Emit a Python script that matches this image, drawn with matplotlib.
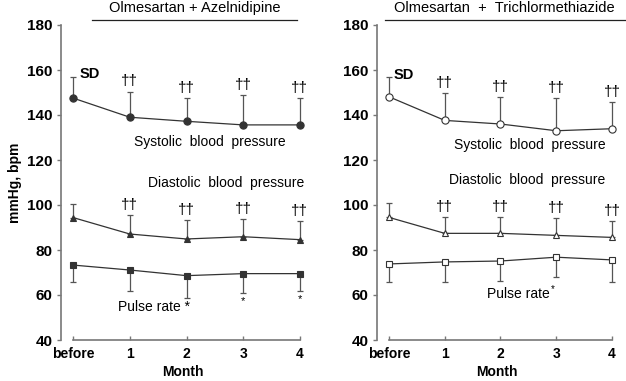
import matplotlib
matplotlib.use("Agg")
import matplotlib.pyplot as plt
from matplotlib.lines import Line2D

plt.rcParams["font.family"] = ["Liberation Sans", "DejaVu Sans"]

# ── Data ────────────────────────────────────────────────────────────────────

months = ["before", "1", "2", "3", "4"]
xpos = [0, 1, 2, 3, 4]

# Olmesartan + Azelnidipine (filled markers)
aze_sbp    = [147.5, 139.0, 137.2, 135.6, 135.6]
aze_sbp_sd = [9.3, 11.4, 10.5, 13.3, 12.1]
aze_dbp    = [94.4, 87.1, 84.9, 85.9, 84.6]
aze_dbp_sd = [6.2, 8.3, 8.3, 8.0, 8.3]
aze_pr     = [73.3, 71.1, 68.6, 69.5, 69.5]
aze_pr_sd  = [7.3, 9.5, 10.1, 8.7, 7.9]

# Olmesartan + Trichlormethiazide (open markers)
tcm_sbp    = [148.1, 137.6, 136.0, 133.0, 133.9]
tcm_sbp_sd = [8.9, 12.3, 12.1, 14.4, 12.0]
tcm_dbp    = [94.5, 87.4, 87.4, 86.5, 85.6]
tcm_dbp_sd = [6.5, 7.4, 7.4, 7.6, 7.3]
tcm_pr     = [73.8, 74.7, 75.1, 76.8, 75.6]
tcm_pr_sd  = [7.8, 8.7, 8.7, 8.9, 9.6]

# months flagged with daggers / asterisks
dagger_months = [1, 2, 3, 4]
aze_star_months = [3, 4]

LINE = "#333333"
ERR = "#555555"
SPINE = "#777777"


def series(ax, y, sd, marker, filled, up=True):
    lower = [0] * len(sd) if up else sd
    upper = sd if up else [0] * len(sd)
    ax.errorbar(xpos, y, yerr=[lower, upper], fmt="none", ecolor=ERR,
                elinewidth=0.9, capsize=2.2, capthick=0.9, zorder=2)
    ax.plot(xpos, y, color=LINE, linewidth=0.9, marker=marker,
            markersize=4.8 if marker != "o" else 5.2,
            markerfacecolor=LINE if filled else "white",
            markeredgecolor=LINE, markeredgewidth=0.8, zorder=3)


def daggers(ax, y, sd):
    for m in dagger_months:
        ax.text(m, y[m] + sd[m] + 4.5, "\u2020\u2020", ha="center", va="center",
                fontsize=11)


def style_axes(ax):
    ax.set_xlim(-0.215, 4.09)
    ax.set_ylim(40, 180)
    ax.set_yticks(range(40, 181, 20))
    ax.set_xticks(xpos)
    ax.set_xticklabels(months)
    for s in ("top", "right"):
        ax.spines[s].set_visible(False)
    for s in ("left", "bottom"):
        ax.spines[s].set_color(SPINE)
        ax.spines[s].set_linewidth(1.2)
    ax.spines["bottom"].set_bounds(0, 4)
    ax.tick_params(axis="y", direction="out", length=3, width=1, color=SPINE,
                   labelsize=11, pad=3)
    ax.tick_params(axis="x", direction="in", length=3, width=1, color=SPINE,
                   labelsize=10, pad=5)
    for lab in ax.get_xticklabels() + ax.get_yticklabels():
        lab.set_fontweight("bold")
    ax.set_xlabel("Month", fontsize=10, fontweight="bold", labelpad=3)


fig = plt.figure(figsize=(6.26, 3.81), dpi=100)
ax1 = fig.add_axes([61 / 626, 1 - 340 / 381, 244 / 626, 315 / 381])
ax2 = fig.add_axes([377 / 626, 1 - 340 / 381, 240 / 626, 315 / 381])

# ── Left panel ──────────────────────────────────────────────────────────────
series(ax1, aze_sbp, aze_sbp_sd, "o", True)
series(ax1, aze_dbp, aze_dbp_sd, "^", True)
series(ax1, aze_pr, aze_pr_sd, "s", True, up=False)
daggers(ax1, aze_sbp, aze_sbp_sd)
daggers(ax1, aze_dbp, aze_dbp_sd)
for m in aze_star_months:
    ax1.text(m, aze_pr[m] - aze_pr_sd[m] - 1.2, "*", ha="center", va="top",
             fontsize=8)
ax1.text(0.12, 158.2, "SD", fontsize=10.5, fontweight="bold", va="center")
ax1.text(2.405, 128.1, "Systolic  blood  pressure", fontsize=10,
         ha="center", va="center")
ax1.text(2.69, 109.9, "Diastolic  blood  pressure", fontsize=10,
         ha="center", va="center")
ax1.text(0.79, 54.7, "Pulse rate *", fontsize=10, ha="left", va="center")
ax1.set_ylabel("mmHg, bpm", fontsize=10, fontweight="bold", labelpad=4)
style_axes(ax1)

# ── Right panel ─────────────────────────────────────────────────────────────
series(ax2, tcm_sbp, tcm_sbp_sd, "o", False)
series(ax2, tcm_dbp, tcm_dbp_sd, "^", False)
series(ax2, tcm_pr, tcm_pr_sd, "s", False, up=False)
daggers(ax2, tcm_sbp, tcm_sbp_sd)
daggers(ax2, tcm_dbp, tcm_dbp_sd)
ax2.text(0.09, 157.8, "SD", fontsize=10.5, fontweight="bold", va="center")
ax2.text(2.52, 126.7, "Systolic  blood  pressure", fontsize=10,
         ha="center", va="center")
ax2.text(2.48, 111.1, "Diastolic  blood  pressure", fontsize=10,
         ha="center", va="center")
ax2.text(1.75, 60.4, "Pulse rate", fontsize=10, ha="left", va="center")
ax2.text(2.9, 62.8, "*", fontsize=7, ha="left", va="center")
style_axes(ax2)

# ── Panel titles with rules ─────────────────────────────────────────────────
fig.text(195 / 626, 1 - 8 / 381, "Olmesartan + Azelnidipine", fontsize=10.5,
         ha="center", va="center")
fig.text(504 / 626, 1 - 8 / 381, "Olmesartan  +  Trichlormethiazide",
         fontsize=10.5, ha="center", va="center")
fig.add_artist(Line2D([92 / 626, 297 / 626], [1 - 20 / 381] * 2,
                      color="#222222", linewidth=0.9))
fig.add_artist(Line2D([385 / 626, 626 / 626], [1 - 20 / 381] * 2,
                      color="#222222", linewidth=0.9))

fig.savefig("out.png", dpi=100)
